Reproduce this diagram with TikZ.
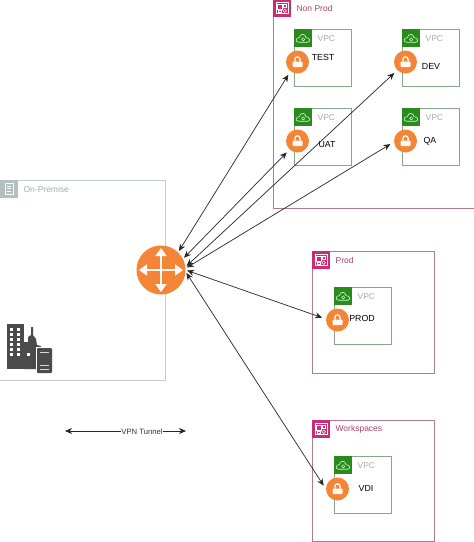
\documentclass[tikz,border=0pt]{standalone}
\usepackage{xcolor}
\usepackage{fontspec}
\setmainfont{Liberation Sans}
\usetikzlibrary{arrows.meta,positioning}
\definecolor{account}{HTML}{CF2A74}
\definecolor{accountLine}{HTML}{B07A98}
\definecolor{vpcGreen}{HTML}{2A8A1E}
\definecolor{vpcLine}{HTML}{86A888}
\definecolor{gatewayOrange}{HTML}{F58536}
\definecolor{premLine}{HTML}{C6CBCB}
\definecolor{premIcon}{HTML}{B4C0C0}
\definecolor{labelGrey}{HTML}{A8ACAC}
\definecolor{buildingGrey}{HTML}{4B4B4B}
\tikzset{
  groupbox/.style={draw=accountLine, line width=1pt, anchor=north west, inner sep=0pt},
  accounticon/.style={fill=account, anchor=north west, minimum size=18pt, inner sep=0pt},
  accounttext/.style={font=\fontsize{8.5}{10}\selectfont, text=account!75!black!85, inner sep=0pt},
  vpcbox/.style={draw=vpcLine, line width=1pt, anchor=north west, minimum width=57pt,
                 minimum height=57pt, inner sep=0pt},
  vpcicon/.style={fill=vpcGreen, anchor=north west, minimum size=18pt, inner sep=0pt},
  vpctext/.style={font=\fontsize{8.5}{10}\selectfont, text=labelGrey, inner sep=0pt},
  lockdot/.style={circle, fill=gatewayOrange, minimum size=23pt, inner sep=0pt},
  envtext/.style={font=\fontsize{8.8}{10}\selectfont, text=black, inner sep=0pt},
  tunnel/.style={<->, >={Stealth[length=7pt,width=6pt]}, line width=0.7pt, draw=black!85,
                 shorten <=1.5pt, shorten >=4pt},
  routerarm/.style={->, >={Triangle[length=8pt,width=11pt]}, line width=2.8pt, draw=white!96!orange},
  vpccloud/.pic={
    \draw[white!80!green, line width=0.6pt] (-4.5,4) .. controls (-8.5,4) and (-7.5,-1) .. (-3.8,-0.5)
      .. controls (-3.2,-5) and (2.2,-5) .. (2.8,-0.5) .. controls (7,-1) and (7.5,4) .. (4.5,4) -- cycle;
    \draw[white!80!green, line width=0.5pt] (0,1.2) circle (1.6pt);
  },
  lockglyph/.pic={
    \fill[white!96!orange, rounded corners=0.8pt] (-5,-0.5) rectangle (5,5);
    \draw[white!96!orange, line width=1.3pt] (-2.6,-0.5) -- (-2.6,-2.6) arc[start angle=180, end angle=0, radius=2.6pt] -- (2.6,-0.5);
  },
  accountglyph/.pic={
    \draw[white, line width=0.5pt] (-6,-5.5) rectangle (6,5.5);
    \draw[white, line width=0.5pt] (-4.5,-3.5) rectangle (0,1.5);
    \draw[white, line width=0.5pt] (1,-4) rectangle (4.5,-0.5);
    \draw[white, line width=0.5pt] (2.5,2.5) circle (1.8pt);
    \draw[white, line width=0.5pt] (-3.5,2.5) rectangle (-0.5,4);
  }
}

\begin{document}
\begin{tikzpicture}[x=1pt,y=-1pt]
  \useasboundingbox (0,0) rectangle (474,542);
  \clip (0,0) rectangle (474,542);
  \fill[white] (0,0) rectangle (474,542);

  % on-premise
  \node[draw=premLine, line width=1pt, anchor=north west, minimum width=170pt, minimum height=200pt,
        inner sep=0pt] (onprem) at (-5,180) {};
  \node[fill=premIcon, anchor=north west, minimum width=18pt, minimum height=18pt, inner sep=0pt] (premicon) at (0,180) {};
  \draw[white, line width=0.5pt] (5,183) rectangle (13,194);
  \draw[white, line width=0.5pt] (7,186) -- (11,186) (7,188.5) -- (11,188.5) (7,191) -- (11,191);
  \node[vpctext, right=5pt of premicon] (premlabel) {On-Premise};

  % building
  \fill[buildingGrey] (7,324) rectangle (24,369);
  \fill[buildingGrey] (24,369) -- (24,342) -- (28,342) -- (28,337) -- (31,335) -- (31,327) -- (33,327) -- (33,335)
    -- (36,339) -- (37,345) -- (41,346) -- (41,369) -- cycle;
  \foreach \wy in {328,333,338,343,348,353} {
    \fill[white] (10,\wy) rectangle (13,\wy+2.5);
    \fill[white] (17,\wy) rectangle (20,\wy+2.5);
  }
  \fill[white] (27,353) rectangle (30,356);
  \fill[white] (35.5,346.5) rectangle (53,374);
  \fill[buildingGrey, rounded corners=1pt] (37,348) rectangle (52,373);
  \draw[white!85!black, line width=0.8pt] (40,352) -- (49,352) (40,365) -- (49,365) (40,369) -- (49,369);

  % accounts
  \node[groupbox, minimum width=210pt, minimum height=209pt] (nonprod) at (273,-1) {};
  \node[groupbox, minimum width=122pt, minimum height=122pt] (prod) at (312,251) {};
  \node[groupbox, minimum width=122pt, minimum height=121pt] (workspaces) at (312,420) {};
  \foreach \name/\txt in {nonprod/Non Prod,prod/Prod,workspaces/Workspaces} {
    \node[accounticon] (icon\name) at (\name.north west) {};
    \pic at (icon\name) {accountglyph};
    \node[accounttext, right=5pt of icon\name] (label\name) {\txt};
  }

  % vpcs
  \foreach \name/\vx/\vy/\lx/\ly in {TEST/294/29/323/57,DEV/402/29/431/66,UAT/294/108/327/145,
                                     QA/402/108/430/141,PROD/334/287/362/318,VDI/334/456/366/488} {
    \node[vpcbox] (vpc\name) at (\vx,\vy) {};
    \node[vpcicon] (icon\name) at (vpc\name.north west) {};
    \pic at (icon\name) {vpccloud};
    \node[vpctext, right=5pt of icon\name] (vpclabel\name) {VPC};
    \node[lockdot] (lock\name) at (\vx+3.5,\vy+33) {};
    \pic at (lock\name) {lockglyph};
    \node[envtext] (env\name) at (\lx,\ly) {\name};
  }

  % router
  \node[circle, fill=gatewayOrange, minimum size=49pt, inner sep=0pt] (router) at (161,270) {};
  \foreach \dx/\dy in {22/0,-22/0,0/22,0/-22} {
    \draw[routerarm] (router.center) -- ++(\dx,\dy);
  }

  % tunnels
  \draw[tunnel] (router.46) -- (lockTEST.233);
  \draw[tunnel] (router.27) -- (lockUAT.227);
  \draw[tunnel] (router.7) -- (lockDEV.225);
  \draw[tunnel] (router.4) -- (lockQA.185);
  \draw[tunnel] (router.0) -- (lockPROD.175);
  \draw[tunnel] (router.-4) -- (lockVDI.180);

  % legend
  \coordinate (legendleft) at (65,431);
  \coordinate (legendright) at (186,431);
  \draw[<->, >={Stealth[length=7pt,width=6pt]}, line width=0.7pt, draw=black!85] (legendleft) -- (legendright);
  \node[fill=white, inner sep=0.5pt, font=\fontsize{7.7}{9}\selectfont, text=black!80] (legendtext) at (142,432) {VPN Tunnel};
\end{tikzpicture}
\end{document}
